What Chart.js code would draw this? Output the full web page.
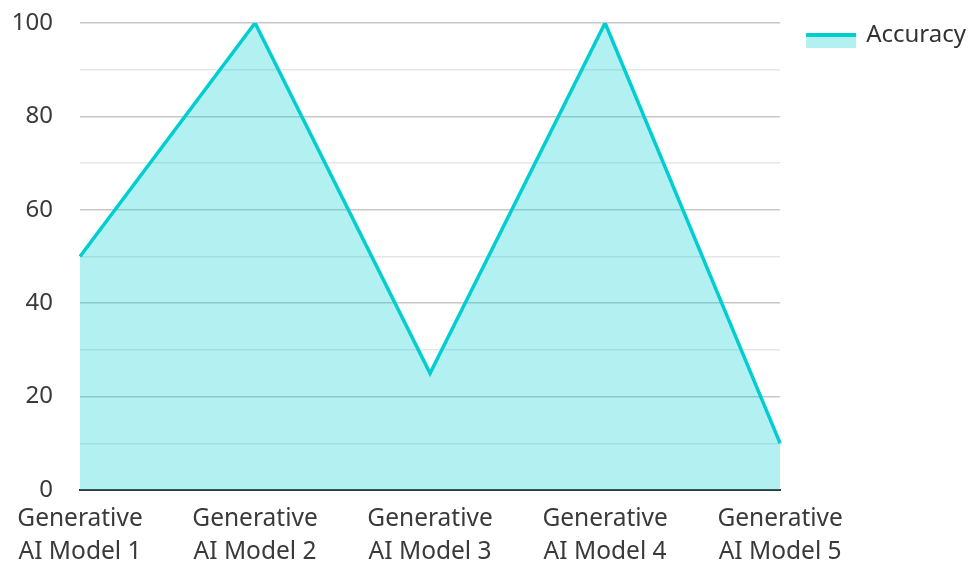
<!DOCTYPE html>
<html>
<head>
<meta charset="utf-8">
<script src="https://cdn.jsdelivr.net/npm/chart.js@4/dist/chart.umd.min.js"></script>
<style>
  html, body { margin: 0; padding: 0; background: #fff; }
  #wrap { width: 971px; height: 562px; position: relative; }
</style>
</head>
<body>
<div id="wrap"><canvas id="c"></canvas></div>
<script>
// Model names (x-axis) and their accuracy scores
const models = [
  ['Generative', 'AI Model 1'],
  ['Generative', 'AI Model 2'],
  ['Generative', 'AI Model 3'],
  ['Generative', 'AI Model 4'],
  ['Generative', 'AI Model 5']
];
const accuracy = [50, 100, 25, 100, 10];
const seriesName = 'Accuracy';
const yMin = 0;
const yMax = 100;
const yStep = 10;

const LINE = '#00CED1';
const FILL = 'rgba(0, 206, 209, 0.3)';
const FONT = "'Noto Sans', 'Open Sans', sans-serif";

// Legend swatch: light fill with a thick line along its top edge
const SWATCH_W = 50, SWATCH_H = 15, SWATCH_DY = 10;
const legendSwatchPlugin = {
  id: 'legendSwatch',
  afterDraw(chart) {
    const lg = chart.legend;
    if (!lg || !lg.legendHitBoxes || !lg.legendHitBoxes.length) return;
    const hb = lg.legendHitBoxes[0];
    const ctx = chart.ctx;
    const top = hb.top + SWATCH_DY;
    ctx.save();
    ctx.fillStyle = FILL;
    ctx.fillRect(hb.left, top, SWATCH_W, SWATCH_H);
    ctx.fillStyle = LINE;
    ctx.fillRect(hb.left, top, SWATCH_W, 4);
    ctx.restore();
  }
};

new Chart(document.getElementById('c'), {
  type: 'line',
  data: {
    labels: models,
    datasets: [{
      label: seriesName,
      data: accuracy,
      borderColor: LINE,
      backgroundColor: FILL,
      borderWidth: 3.5,
      fill: 'origin',
      tension: 0,
      pointRadius: 0,
      pointHoverRadius: 0
    }]
  },
  options: {
    responsive: true,
    maintainAspectRatio: false,
    animation: false,
    layout: { padding: { top: -3, left: 0, right: -5, bottom: 0 } },
    plugins: {
      tooltip: { enabled: false },
      legend: {
        position: 'right',
        align: 'start',
        labels: {
          boxWidth: 48,
          boxHeight: 24,
          padding: 26,
          color: '#333',
          font: { family: FONT, size: 24 },
          generateLabels(chart) {
            return chart.data.datasets.map((ds, i) => ({
              text: ds.label,
              fillStyle: 'rgba(0,0,0,0)',
              strokeStyle: 'rgba(0,0,0,0)',
              lineWidth: 0,
              fontColor: '#333',
              datasetIndex: i,
              hidden: false
            }));
          }
        }
      }
    },
    scales: {
      x: {
        offset: false,
        z: 1,
        grid: { display: false, drawTicks: false },
        border: { display: true, color: '#333', width: 2 },
        ticks: {
          color: '#3a3a3a',
          padding: 13,
          maxRotation: 0,
          autoSkip: false,
          font: { family: FONT, size: 24.5, lineHeight: 1.33 }
        },
        afterFit(scale) {
          scale.height = 72;
          scale.paddingLeft = 0;
          scale.paddingRight = 0;
        }
      },
      y: {
        min: yMin,
        max: yMax,
        grid: {
          drawTicks: false,
          color: ctx => (ctx.tick && ctx.tick.value % 20 === 0) ? '#c8c8c8' : '#e6e6e6',
          lineWidth: 1.5
        },
        border: { display: false },
        ticks: {
          stepSize: yStep,
          padding: 27,
          color: '#3a3a3a',
          font: { family: FONT, size: 24 },
          callback: v => (v % 20 === 0 ? v : '')
        },
        afterFit(scale) {
          scale.width = 80;
          scale.paddingTop = 23;
          scale.paddingBottom = 0;
        }
      }
    }
  },
  plugins: [legendSwatchPlugin]
});
</script>
</body>
</html>
